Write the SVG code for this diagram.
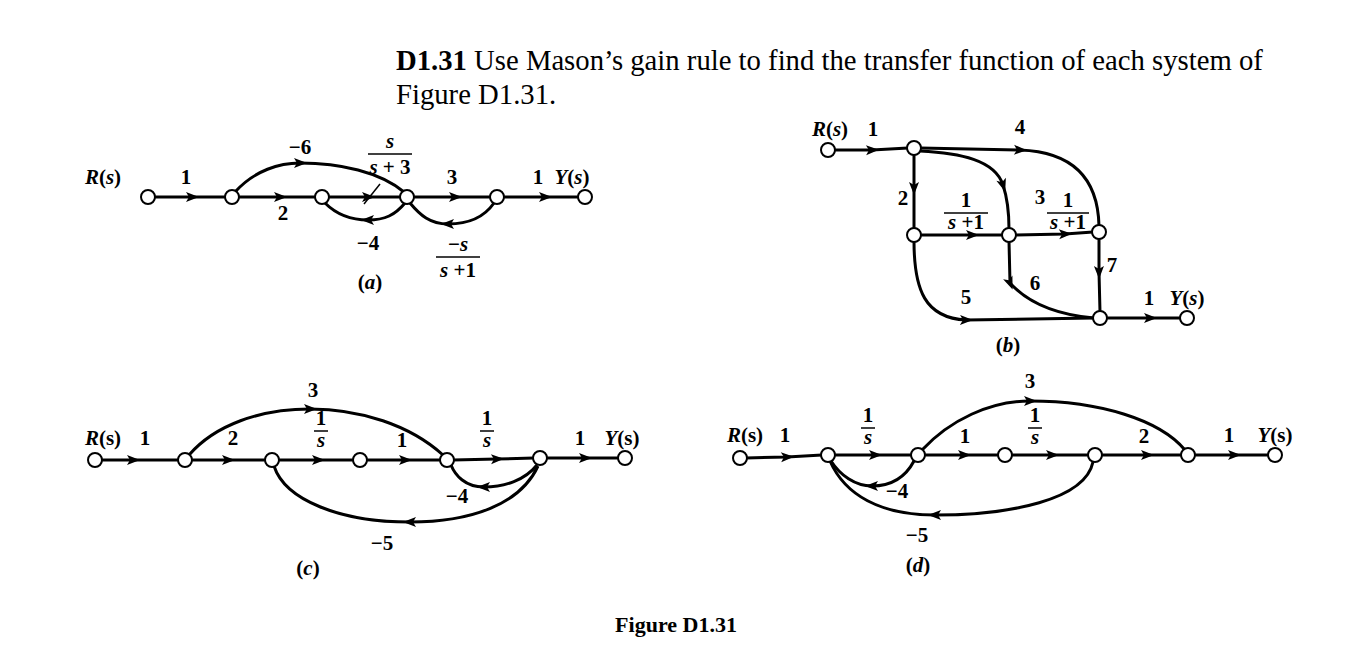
<svg xmlns="http://www.w3.org/2000/svg" width="1352" height="658" viewBox="0 0 1352 658">
<defs>
<marker id="ar" viewBox="-2 -6 16 12" markerWidth="16" markerHeight="12" refX="6" refY="0" orient="auto" markerUnits="userSpaceOnUse">
<path d="M0,-5 L13,0 L0,5 L3,0 z" fill="#000"/>
</marker>
</defs>
<style>
.e{fill:none;stroke:#000;stroke-width:3;marker-mid:url(#ar)}
.n{fill:#fff;stroke:#000;stroke-width:2}
text{font-family:"Liberation Serif","Times New Roman",serif;font-size:21px;fill:#000;font-weight:bold}
.i{font-style:italic}
.c{text-anchor:middle}
.t{font-size:28.7px;font-weight:normal}
.fl{stroke:#000;stroke-width:1.5}
</style>
<rect width="1352" height="658" fill="#fff"/>
<text x="396" y="70" class="t"><tspan font-weight="bold">D1.31</tspan> Use Mason’s gain rule to find the transfer function of each system of</text>
<text x="396" y="104" class="t">Figure D1.31.</text>
<text x="676" y="632" class="c" style="font-size:22px">Figure D1.31</text>

<g id="connectors">
<!-- (a) -->
<path class="e" d="M154,197 L192,197 L225,197"/>
<path class="e" d="M238,197 L280,197 L316,197"/>
<path class="e" d="M328,197 L368,197 L401,197"/>
<path class="e" d="M413,197 L455,197 L491,197"/>
<path class="e" d="M503,197 L545,197 L579,197"/>
<path class="e" d="M235,192 C255,170 280,163 300,163 C340,163 380,172 404,192"/>
<path class="e" d="M405,203 C395,215 385,220 368,220 C350,220 335,213 325,203"/>
<path class="e" d="M494,203 C485,216 470,224 448,224 C430,224 420,215 410,203"/>
<line class="fl" x1="380" y1="184" x2="364" y2="204"/>
<!-- (b) -->
<path class="e" d="M834,150 L872,150 L908,148"/>
<path class="e" d="M920,148 L1020,150 C1075,152 1098,180 1099,226"/>
<path class="e" d="M920,151 C960,153 995,160 1003,185 C1008,200 1009,215 1009,229"/>
<path class="e" d="M914,154 L914,188 L914,229"/>
<path class="e" d="M920,235 L972,235 L1003,235"/>
<path class="e" d="M1015,235 L1065,234 L1093,232"/>
<path class="e" d="M1099,238 L1099,272 L1100,312"/>
<path class="e" d="M1009,241 L1010,283 C1030,305 1060,315 1094,318"/>
<path class="e" d="M914,241 C914,290 925,318 966,320 L1094,318"/>
<path class="e" d="M1106,318 L1150,318 L1181,318"/>
<!-- (c) -->
<path class="e" d="M101,460 L133,460 L179,460"/>
<path class="e" d="M191,460 L228,460 L266,460"/>
<path class="e" d="M278,460 L318,460 L354,460"/>
<path class="e" d="M366,460 L405,460 L441,460"/>
<path class="e" d="M453,460 L497,459 L534,458"/>
<path class="e" d="M546,458 L585,458 L619,458"/>
<path class="e" d="M189,455 C215,425 260,409 310,409 C360,409 410,425 443,455"/>
<path class="e" d="M537,465 C525,480 505,487 484,487 C465,487 455,475 451,465"/>
<path class="e" d="M538,466 C520,505 470,522 410,522 C340,522 285,500 274,466"/>
<!-- (d) -->
<path class="e" d="M746,458 L787,457 L822,455"/>
<path class="e" d="M834,455 L875,455 L912,455"/>
<path class="e" d="M924,455 L964,455 L999,455"/>
<path class="e" d="M1011,455 L1052,455 L1089,455"/>
<path class="e" d="M1101,455 L1147,455 L1182,455"/>
<path class="e" d="M1194,455 L1234,455 L1269,455"/>
<path class="e" d="M922,450 C950,420 990,401 1030,401 C1100,401 1160,420 1185,450"/>
<path class="e" d="M914,461 C905,478 890,486 872,486 C855,486 840,475 831,461"/>
<path class="e" d="M1093,462 C1085,500 1010,515 935,515 C880,515 845,495 830,461"/>
</g>

<g id="nodes-a">
<circle id="a-R" class="n" cx="148" cy="197" r="7"/>
<circle id="a-1" class="n" cx="232" cy="197" r="7"/>
<circle id="a-2" class="n" cx="322" cy="197" r="7"/>
<circle id="a-3" class="n" cx="407" cy="197" r="7"/>
<circle id="a-4" class="n" cx="497" cy="197" r="7"/>
<circle id="a-Y" class="n" cx="585" cy="197" r="7"/>
</g>
<g id="nodes-b">
<circle id="b-R" class="n" cx="828" cy="150" r="7"/>
<circle id="b-A" class="n" cx="914" cy="148" r="7"/>
<circle id="b-B" class="n" cx="914" cy="235" r="7"/>
<circle id="b-M" class="n" cx="1009" cy="235" r="7"/>
<circle id="b-C" class="n" cx="1099" cy="232" r="7"/>
<circle id="b-D" class="n" cx="1100" cy="318" r="7"/>
<circle id="b-Y" class="n" cx="1187" cy="318" r="7"/>
</g>
<g id="nodes-c">
<circle id="c-R" class="n" cx="95" cy="460" r="7"/>
<circle id="c-1" class="n" cx="185" cy="460" r="7"/>
<circle id="c-2" class="n" cx="272" cy="460" r="7"/>
<circle id="c-3" class="n" cx="360" cy="460" r="7"/>
<circle id="c-4" class="n" cx="447" cy="460" r="7"/>
<circle id="c-5" class="n" cx="540" cy="458" r="7"/>
<circle id="c-Y" class="n" cx="625" cy="458" r="7"/>
</g>
<g id="nodes-d">
<circle id="d-R" class="n" cx="740" cy="458" r="7"/>
<circle id="d-1" class="n" cx="828" cy="455" r="7"/>
<circle id="d-2" class="n" cx="918" cy="455" r="7"/>
<circle id="d-3" class="n" cx="1005" cy="455" r="7"/>
<circle id="d-4" class="n" cx="1095" cy="455" r="7"/>
<circle id="d-5" class="n" cx="1188" cy="455" r="7"/>
<circle id="d-Y" class="n" cx="1275" cy="455" r="7"/>
</g>

<g id="labels-a">
<text x="103" y="184" class="c"><tspan class="i">R</tspan>(<tspan class="i">s</tspan>)</text>
<text x="186" y="184" class="c">1</text>
<text x="300" y="154" class="c">−6</text>
<text x="390" y="148" class="c i">s</text>
<line class="fl" x1="368" y1="154" x2="412" y2="154"/>
<text x="390" y="174" class="c"><tspan class="i">s</tspan> + 3</text>
<text x="283" y="220" class="c">2</text>
<text x="452" y="184" class="c">3</text>
<text x="538" y="184" class="c">1</text>
<text x="572" y="184" class="c"><tspan class="i">Y</tspan>(<tspan class="i">s</tspan>)</text>
<text x="368" y="250" class="c">−4</text>
<text x="458" y="251" class="c">−<tspan class="i">s</tspan></text>
<line class="fl" x1="436" y1="257" x2="480" y2="257"/>
<text x="458" y="277" class="c"><tspan class="i">s</tspan> +1</text>
<text x="370" y="289" class="c">(<tspan class="i">a</tspan>)</text>
</g>
<g id="labels-b">
<text x="830" y="136" class="c"><tspan class="i">R</tspan>(<tspan class="i">s</tspan>)</text>
<text x="873" y="136" class="c">1</text>
<text x="1020" y="134" class="c">4</text>
<text x="1040" y="204" class="c">3</text>
<text x="903" y="205" class="c">2</text>
<text x="966" y="207" class="c">1</text>
<line class="fl" x1="944" y1="213" x2="988" y2="213"/>
<text x="966" y="229" class="c"><tspan class="i">s</tspan> +1</text>
<text x="1068" y="207" class="c">1</text>
<line class="fl" x1="1047" y1="213" x2="1089" y2="213"/>
<text x="1068" y="229" class="c"><tspan class="i">s</tspan> +1</text>
<text x="1035" y="290" class="c">6</text>
<text x="1112" y="272" class="c">7</text>
<text x="966" y="304" class="c">5</text>
<text x="1149" y="305" class="c">1</text>
<text x="1187" y="305" class="c"><tspan class="i">Y</tspan>(<tspan class="i">s</tspan>)</text>
<text x="1008" y="352" class="c">(<tspan class="i">b</tspan>)</text>
</g>
<g id="labels-c">
<text x="103" y="445" class="c"><tspan class="i">R</tspan>(s)</text>
<text x="145" y="445" class="c">1</text>
<text x="233" y="445" class="c">2</text>
<text x="313" y="397" class="c">3</text>
<text x="321" y="425" class="c">1</text>
<line class="fl" x1="314" y1="431" x2="328" y2="431"/>
<text x="321" y="447" class="c i">s</text>
<text x="402" y="447" class="c">1</text>
<text x="487" y="425" class="c">1</text>
<line class="fl" x1="480" y1="431" x2="494" y2="431"/>
<text x="487" y="447" class="c i">s</text>
<text x="580" y="445" class="c">1</text>
<text x="622" y="445" class="c"><tspan class="i">Y</tspan>(s)</text>
<text x="457" y="503" class="c">−4</text>
<text x="382" y="550" class="c">−5</text>
<text x="308" y="575" class="c">(<tspan class="i">c</tspan>)</text>
</g>
<g id="labels-d">
<text x="745" y="442" class="c"><tspan class="i">R</tspan>(s)</text>
<text x="785" y="442" class="c">1</text>
<text x="868" y="422" class="c">1</text>
<line class="fl" x1="861" y1="428" x2="875" y2="428"/>
<text x="868" y="444" class="c i">s</text>
<text x="965" y="443" class="c">1</text>
<text x="1035" y="422" class="c">1</text>
<line class="fl" x1="1028" y1="428" x2="1042" y2="428"/>
<text x="1035" y="444" class="c i">s</text>
<text x="1144" y="443" class="c">2</text>
<text x="1030" y="388" class="c">3</text>
<text x="1229" y="442" class="c">1</text>
<text x="1275" y="442" class="c"><tspan class="i">Y</tspan>(s)</text>
<text x="897" y="498" class="c">−4</text>
<text x="917" y="542" class="c">−5</text>
<text x="918" y="572" class="c">(<tspan class="i">d</tspan>)</text>
</g>
</svg>
